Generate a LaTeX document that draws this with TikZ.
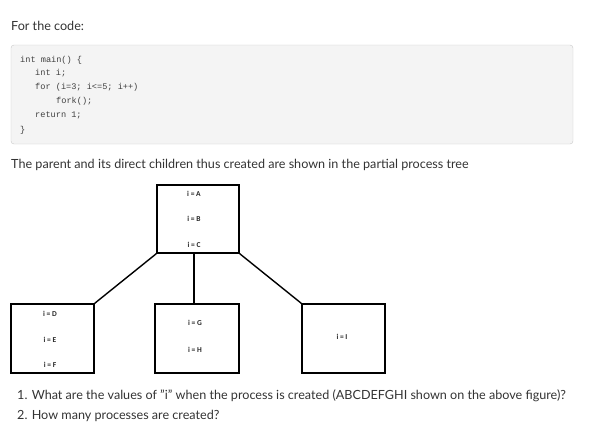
\documentclass[tikz,border=0pt]{standalone}
\usepackage{fontspec}
\setmainfont{Lato}
\setmonofont{Liberation Mono}
\newfontfamily\boxfont{Carlito}
\definecolor{bodytext}{HTML}{333333}
\definecolor{codefill}{HTML}{F4F4F4}
\definecolor{codeline}{HTML}{C8C8C8}

\begin{document}
\begin{tikzpicture}[x=1pt, y=-1pt,
  proc/.style={draw, line width=1.4pt, inner sep=0pt},
  lbl/.style={font=\boxfont\bfseries\fontsize{7.5}{8}\selectfont, text=black!85},
  txt/.style={anchor=west, inner sep=0pt, font=\fontsize{12.6}{15}\selectfont, text=bodytext},
  code/.style={anchor=west, inner sep=0pt, font=\ttfamily\fontsize{8.6}{10}\selectfont, text=black!75}]
\useasboundingbox (0,0) rectangle (590,447);

% heading and code
\node[txt] (head) at (11,26) {For the code:};
\node[draw=codeline, fill=codefill, rounded corners=3pt, minimum width=562pt, minimum height=99pt] (codebox) at (292,94.5) {};
\node[code] (c1) at (20,60) {int main() \{};
\node[code] (c2) at (35,73) {int i;};
\node[code] (c3) at (35,87) {for (i=3; i<=5; i++)};
\node[code] (c4) at (56,101) {fork();};
\node[code] (c5) at (35,115) {return 1;};
\node[code] (c6) at (20,130) {\}};
\node[txt] (intro) at (11,165) {The parent and its direct children thus created are shown in the partial process tree};

% process tree
\node[proc, minimum width=82pt, minimum height=68pt] (top) at (198,219) {};
\node[proc, minimum width=83pt, minimum height=69pt] (left) at (52.5,338.5) {};
\node[proc, minimum width=84pt, minimum height=69pt] (mid) at (197,338.5) {};
\node[proc, minimum width=83pt, minimum height=69pt] (right) at (343.5,338.5) {};

\node[lbl] (la) at (194,194) {i = A};
\node[lbl] (lb) at (194,219) {i = B};
\node[lbl] (lc) at (194,245) {i = C};
\node[lbl] (ld) at (50,314) {i = D};
\node[lbl] (le) at (50,340) {i = E};
\node[lbl] (lf) at (50,365) {i = F};
\node[lbl] (lg) at (195,323) {i = G};
\node[lbl] (lh) at (195,350) {i = H};
\node[lbl] (li) at (342,337) {i = I};

\draw[line width=1.4pt] (top.south west) -- (left.north east);
\draw[line width=1.4pt] ([xshift=-4pt]top.south) -- ([xshift=-4pt]top.south |- mid.north);
\draw[line width=1.4pt] (top.south east) -- (right.north west);

% questions
\node[txt] (q1) at (17,396) {1. What are the values of "i" when the process is created (ABCDEFGHI shown on the above figure)?};
\node[txt] (q2) at (17,416) {2. How many processes are created?};
\end{tikzpicture}
\end{document}
